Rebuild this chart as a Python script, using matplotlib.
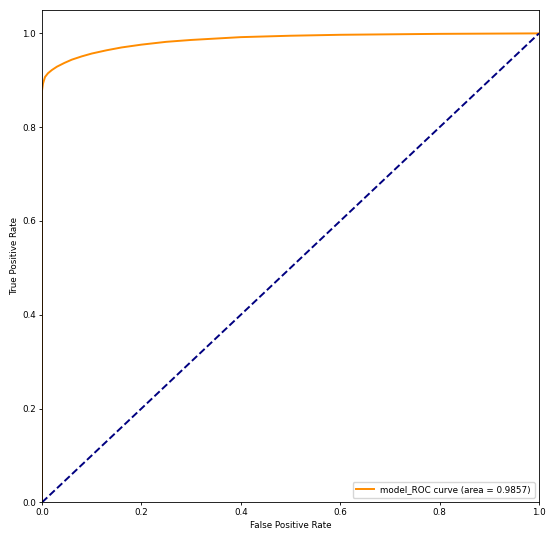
import numpy as np
import matplotlib
matplotlib.use("Agg")
import matplotlib.pyplot as plt

# ROC curve points
fpr = [0.0, 0.0, 0.0, 0.002, 0.006, 0.012, 0.02, 0.03, 0.045, 0.06, 0.08, 0.1,
       0.13, 0.16, 0.2, 0.25, 0.3, 0.35, 0.4, 0.5, 0.6, 0.7, 0.8, 0.9, 1.0]
tpr = [0.0, 0.5, 0.878, 0.893, 0.907, 0.915, 0.922, 0.929, 0.937, 0.944, 0.951,
       0.957, 0.964, 0.970, 0.976, 0.982, 0.986, 0.989, 0.992, 0.995, 0.997,
       0.998, 0.999, 0.9995, 1.0]
roc_auc = 0.9857

FS = 6.3

fig = plt.figure(figsize=(5.5, 5.37), dpi=100)
ax = fig.add_axes([0.0764, 0.0645, 0.9036, 0.917])

ax.plot(fpr, tpr, color='darkorange', lw=1.4,
        label='model_ROC curve (area = %0.4f)' % roc_auc)
ax.plot([0, 1], [0, 1], color='navy', lw=1.4, linestyle='--')

ax.set_xlim([0.0, 1.0])
ax.set_ylim([0.0, 1.05])
ax.set_xlabel('False Positive Rate', fontsize=FS, labelpad=2.5)
ax.set_ylabel('True Positive Rate', fontsize=FS, labelpad=2.5)
ax.tick_params(labelsize=FS, length=2.2, width=0.6, pad=2.2)
for s in ax.spines.values():
    s.set_linewidth(0.6)
ax.legend(loc='lower right', fontsize=FS)

fig.savefig('out.png', dpi=100)
